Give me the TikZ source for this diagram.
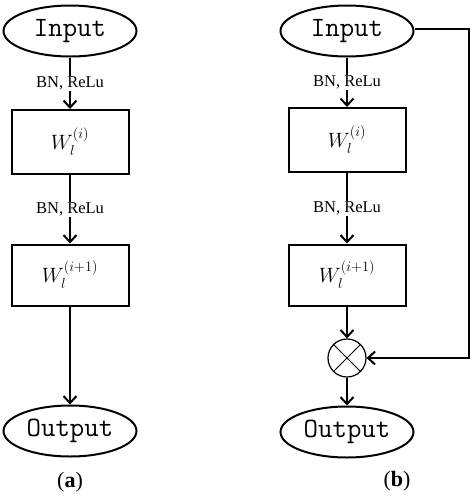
\documentclass[tikz,border=0pt]{standalone}
\usepackage{amsmath}
\usepackage{fontspec}
\setmainfont{Liberation Serif}
\usetikzlibrary{arrows.meta,shapes.geometric}
\tikzset{>={Straight Barb[length=7pt,width=13pt]}}
\tikzset{
  io/.style={ellipse, draw, line width=2pt, minimum width=133pt, minimum height=51pt, inner sep=0pt,
    font=\fontsize{28}{28}\ttfamily},
  wbox/.style={rectangle, draw, line width=2pt, minimum width=117pt, inner sep=0pt,
    font=\fontsize{21}{24}\selectfont},
  act/.style={fill=white, inner sep=1pt, font=\fontsize{16.5}{18}\selectfont},
  mult/.style={circle, draw, line width=1.2pt, minimum size=38pt, inner sep=0pt},
  tag/.style={font=\fontsize{22}{24}\selectfont}
}
\begin{document}
\begin{tikzpicture}[x=1pt,y=1pt,line width=2pt]

  \useasboundingbox (0,0) rectangle (474,-499);

  \newcommand\XA{70};
  \newcommand\XB{347};

  % (a) plain stack
  \node[io] (inA) at (\XA,-31) {Input};
  \node[wbox, minimum height=64pt] (w1A) at (\XA,-142) {$W_l^{(i)}$};
  \node[wbox, minimum height=61pt] (w2A) at (\XA,-275) {$W_l^{(i+1)}$};
  \node[io] (outA) at (\XA,-431) {Output};

  \draw[->] (inA) -- node[act]{BN, ReLu} (w1A);
  \draw[->] (w1A) -- node[act]{BN, ReLu} (w2A);
  \draw[->] (w2A) -- (outA);

  \node[tag] (capA) at (\XA,-482) {(\textbf{a})};

  % (b) with shortcut
  \node[io] (inB) at (\XB,-31) {Input};
  \node[wbox, minimum height=64pt] (w1B) at (\XB,-140) {$W_l^{(i)}$};
  \node[wbox, minimum height=61pt] (w2B) at (\XB,-275) {$W_l^{(i+1)}$};
  \node[mult] (mulB) at (\XB,-358) {};
  \draw[line width=0.8pt] (mulB.45) -- (mulB.225) (mulB.135) -- (mulB.315);
  \node[io] (outB) at (\XB,-432) {Output};
  \coordinate (topR) at (469,-29);
  \coordinate (botR) at (469,-358);

  \draw[->] (inB) -- node[act]{BN, ReLu} (w1B);
  \draw[->] (w1B) -- node[act]{BN, ReLu} (w2B);
  \draw[->] (w2B) -- (mulB);
  \draw[->] (mulB) -- (outB);
  \draw[->] (inB.east |- topR) -- (topR) -- (botR) -- (mulB.east);

  \node[tag] (capB) at (397,-481) {(\textbf{b})};

\end{tikzpicture}
\end{document}
